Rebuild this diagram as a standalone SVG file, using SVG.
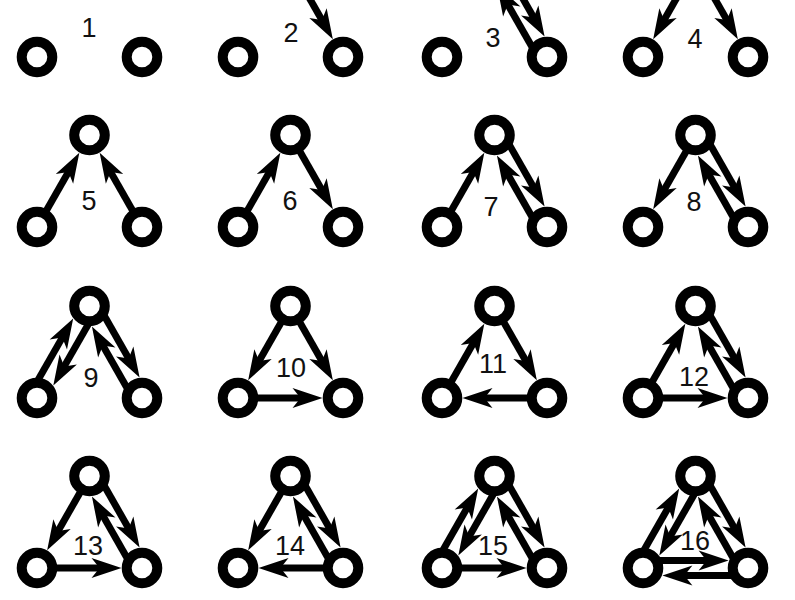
<svg xmlns="http://www.w3.org/2000/svg" width="795" height="600" viewBox="0 0 795 600">
<style>
.e{stroke:#000;stroke-width:7;fill:none;marker-end:url(#ah)}
.n circle{fill:#fff;stroke:#000;stroke-width:10}
.lbl{font-family:"Liberation Sans",Arial,sans-serif;font-size:27px;fill:#111;text-anchor:middle}
</style>
<defs>
<marker id="ah" markerUnits="userSpaceOnUse" viewBox="-16 -13 38 26" markerWidth="38" markerHeight="26" refX="0" refY="0" orient="auto">
<path d="M18,0 L-12,-10 L-4,0 L-12,10 Z" fill="#000"/>
</marker>
</defs>
<rect width="795" height="600" fill="#fff"/>
<g id="connectors">
<!-- 2 -->
<line class="e" transform="translate(290.5,-35) rotate(60.28)" x1="0" y1="0" x2="67.4" y2="0"/>
<!-- 3 -->
<line class="e" transform="translate(494.5,-35) rotate(60.28)" x1="0" y1="-8" x2="69" y2="-8"/>
<line class="e" transform="translate(547,57) rotate(-119.72)" x1="0" y1="-8" x2="69" y2="-8"/>
<!-- 4 -->
<line class="e" transform="translate(695.5,-35) rotate(119.72)" x1="0" y1="0" x2="67.4" y2="0"/>
<line class="e" transform="translate(695.5,-35) rotate(60.28)" x1="0" y1="0" x2="67.4" y2="0"/>
<!-- 5 -->
<line class="e" transform="translate(37,227) rotate(-60.28)" x1="0" y1="0" x2="67.4" y2="0"/>
<line class="e" transform="translate(142,227) rotate(-119.72)" x1="0" y1="0" x2="67.4" y2="0"/>
<!-- 6 -->
<line class="e" transform="translate(238,227) rotate(-60.28)" x1="0" y1="0" x2="67.4" y2="0"/>
<line class="e" transform="translate(290.5,135) rotate(60.28)" x1="0" y1="0" x2="67.4" y2="0"/>
<!-- 7 -->
<line class="e" transform="translate(442,227) rotate(-60.28)" x1="0" y1="0" x2="67.4" y2="0"/>
<line class="e" transform="translate(494.5,135) rotate(60.28)" x1="0" y1="-8" x2="69" y2="-8"/>
<line class="e" transform="translate(547,227) rotate(-119.72)" x1="0" y1="-8" x2="69" y2="-8"/>
<!-- 8 -->
<line class="e" transform="translate(695.5,135) rotate(119.72)" x1="0" y1="0" x2="67.4" y2="0"/>
<line class="e" transform="translate(695.5,135) rotate(60.28)" x1="0" y1="-8" x2="69" y2="-8"/>
<line class="e" transform="translate(748,227) rotate(-119.72)" x1="0" y1="-8" x2="69" y2="-8"/>
<!-- 9 -->
<line class="e" transform="translate(89.5,306) rotate(119.72)" x1="0" y1="-8" x2="69" y2="-8"/>
<line class="e" transform="translate(37,398) rotate(-60.28)" x1="0" y1="-8" x2="69" y2="-8"/>
<line class="e" transform="translate(89.5,306) rotate(60.28)" x1="0" y1="-8" x2="69" y2="-8"/>
<line class="e" transform="translate(142,398) rotate(-119.72)" x1="0" y1="-8" x2="69" y2="-8"/>
<!-- 10 -->
<line class="e" transform="translate(290.5,306) rotate(119.72)" x1="0" y1="0" x2="67.4" y2="0"/>
<line class="e" transform="translate(290.5,306) rotate(60.28)" x1="0" y1="0" x2="67.4" y2="0"/>
<line class="e" transform="translate(238,398) rotate(0)" x1="0" y1="0" x2="66.5" y2="0"/>
<!-- 11 -->
<line class="e" transform="translate(442,398) rotate(-60.28)" x1="0" y1="0" x2="67.4" y2="0"/>
<line class="e" transform="translate(494.5,306) rotate(60.28)" x1="0" y1="0" x2="67.4" y2="0"/>
<line class="e" transform="translate(547,398) rotate(180)" x1="0" y1="0" x2="66.5" y2="0"/>
<!-- 12 -->
<line class="e" transform="translate(643,398) rotate(-60.28)" x1="0" y1="0" x2="67.4" y2="0"/>
<line class="e" transform="translate(695.5,306) rotate(60.28)" x1="0" y1="-8" x2="69" y2="-8"/>
<line class="e" transform="translate(748,398) rotate(-119.72)" x1="0" y1="-8" x2="69" y2="-8"/>
<line class="e" transform="translate(643,398) rotate(0)" x1="0" y1="0" x2="66.5" y2="0"/>
<!-- 13 -->
<line class="e" transform="translate(89.5,476) rotate(119.72)" x1="0" y1="0" x2="67.4" y2="0"/>
<line class="e" transform="translate(89.5,476) rotate(60.28)" x1="0" y1="-8" x2="69" y2="-8"/>
<line class="e" transform="translate(142,568) rotate(-119.72)" x1="0" y1="-8" x2="69" y2="-8"/>
<line class="e" transform="translate(37,568) rotate(0)" x1="0" y1="0" x2="66.5" y2="0"/>
<!-- 14 -->
<line class="e" transform="translate(290.5,476) rotate(119.72)" x1="0" y1="0" x2="67.4" y2="0"/>
<line class="e" transform="translate(290.5,476) rotate(60.28)" x1="0" y1="-8" x2="69" y2="-8"/>
<line class="e" transform="translate(343,568) rotate(-119.72)" x1="0" y1="-8" x2="69" y2="-8"/>
<line class="e" transform="translate(343,568) rotate(180)" x1="0" y1="0" x2="66.5" y2="0"/>
<!-- 15 -->
<line class="e" transform="translate(494.5,476) rotate(119.72)" x1="0" y1="-8" x2="69" y2="-8"/>
<line class="e" transform="translate(442,568) rotate(-60.28)" x1="0" y1="-8" x2="69" y2="-8"/>
<line class="e" transform="translate(494.5,476) rotate(60.28)" x1="0" y1="-8" x2="69" y2="-8"/>
<line class="e" transform="translate(547,568) rotate(-119.72)" x1="0" y1="-8" x2="69" y2="-8"/>
<line class="e" transform="translate(442,568) rotate(0)" x1="0" y1="0" x2="66.5" y2="0"/>
<!-- 16 -->
<line class="e" transform="translate(695.5,476) rotate(119.72)" x1="0" y1="-8" x2="69" y2="-8"/>
<line class="e" transform="translate(643,568) rotate(-60.28)" x1="0" y1="-8" x2="69" y2="-8"/>
<line class="e" transform="translate(695.5,476) rotate(60.28)" x1="0" y1="-8" x2="69" y2="-8"/>
<line class="e" transform="translate(748,568) rotate(-119.72)" x1="0" y1="-8" x2="69" y2="-8"/>
<line class="e" transform="translate(643,568) rotate(0)" x1="0" y1="-7.5" x2="67.6" y2="-7.5"/>
<line class="e" transform="translate(748,568) rotate(180)" x1="0" y1="-7.5" x2="67.6" y2="-7.5"/>
</g>
<g id="nodes">
<g id="n1L" class="n"><circle cx="37" cy="57" r="15.3"/></g>
<g id="n1R" class="n"><circle cx="142" cy="57" r="15.3"/></g>
<g id="n2L" class="n"><circle cx="238" cy="57" r="15.3"/></g>
<g id="n2R" class="n"><circle cx="343" cy="57" r="15.3"/></g>
<g id="n3L" class="n"><circle cx="442" cy="57" r="15.3"/></g>
<g id="n3R" class="n"><circle cx="547" cy="57" r="15.3"/></g>
<g id="n4L" class="n"><circle cx="643" cy="57" r="15.3"/></g>
<g id="n4R" class="n"><circle cx="748" cy="57" r="15.3"/></g>

<g id="n5T" class="n"><circle cx="89.5" cy="135" r="15.3"/></g>
<g id="n5L" class="n"><circle cx="37" cy="227" r="15.3"/></g>
<g id="n5R" class="n"><circle cx="142" cy="227" r="15.3"/></g>
<g id="n6T" class="n"><circle cx="290.5" cy="135" r="15.3"/></g>
<g id="n6L" class="n"><circle cx="238" cy="227" r="15.3"/></g>
<g id="n6R" class="n"><circle cx="343" cy="227" r="15.3"/></g>
<g id="n7T" class="n"><circle cx="494.5" cy="135" r="15.3"/></g>
<g id="n7L" class="n"><circle cx="442" cy="227" r="15.3"/></g>
<g id="n7R" class="n"><circle cx="547" cy="227" r="15.3"/></g>
<g id="n8T" class="n"><circle cx="695.5" cy="135" r="15.3"/></g>
<g id="n8L" class="n"><circle cx="643" cy="227" r="15.3"/></g>
<g id="n8R" class="n"><circle cx="748" cy="227" r="15.3"/></g>

<g id="n9T" class="n"><circle cx="89.5" cy="306" r="15.3"/></g>
<g id="n9L" class="n"><circle cx="37" cy="398" r="15.3"/></g>
<g id="n9R" class="n"><circle cx="142" cy="398" r="15.3"/></g>
<g id="n10T" class="n"><circle cx="290.5" cy="306" r="15.3"/></g>
<g id="n10L" class="n"><circle cx="238" cy="398" r="15.3"/></g>
<g id="n10R" class="n"><circle cx="343" cy="398" r="15.3"/></g>
<g id="n11T" class="n"><circle cx="494.5" cy="306" r="15.3"/></g>
<g id="n11L" class="n"><circle cx="442" cy="398" r="15.3"/></g>
<g id="n11R" class="n"><circle cx="547" cy="398" r="15.3"/></g>
<g id="n12T" class="n"><circle cx="695.5" cy="306" r="15.3"/></g>
<g id="n12L" class="n"><circle cx="643" cy="398" r="15.3"/></g>
<g id="n12R" class="n"><circle cx="748" cy="398" r="15.3"/></g>

<g id="n13T" class="n"><circle cx="89.5" cy="476" r="15.3"/></g>
<g id="n13L" class="n"><circle cx="37" cy="568" r="15.3"/></g>
<g id="n13R" class="n"><circle cx="142" cy="568" r="15.3"/></g>
<g id="n14T" class="n"><circle cx="290.5" cy="476" r="15.3"/></g>
<g id="n14L" class="n"><circle cx="238" cy="568" r="15.3"/></g>
<g id="n14R" class="n"><circle cx="343" cy="568" r="15.3"/></g>
<g id="n15T" class="n"><circle cx="494.5" cy="476" r="15.3"/></g>
<g id="n15L" class="n"><circle cx="442" cy="568" r="15.3"/></g>
<g id="n15R" class="n"><circle cx="547" cy="568" r="15.3"/></g>
<g id="n16T" class="n"><circle cx="695.5" cy="476" r="15.3"/></g>
<g id="n16L" class="n"><circle cx="643" cy="568" r="15.3"/></g>
<g id="n16R" class="n"><circle cx="748" cy="568" r="15.3"/></g>
</g>
<g id="labels">
<text class="lbl" x="89" y="37">1</text>
<text class="lbl" x="291" y="42">2</text>
<text class="lbl" x="493" y="47">3</text>
<text class="lbl" x="695" y="48">4</text>
<text class="lbl" x="89" y="210">5</text>
<text class="lbl" x="290" y="210">6</text>
<text class="lbl" x="491" y="216">7</text>
<text class="lbl" x="694" y="211">8</text>
<text class="lbl" x="91" y="387">9</text>
<text class="lbl" x="291" y="377">10</text>
<text class="lbl" x="493" y="373">11</text>
<text class="lbl" x="694" y="386">12</text>
<text class="lbl" x="88" y="555">13</text>
<text class="lbl" x="290" y="555">14</text>
<text class="lbl" x="493" y="555">15</text>
<text class="lbl" x="695" y="550">16</text>
</g>
</svg>
